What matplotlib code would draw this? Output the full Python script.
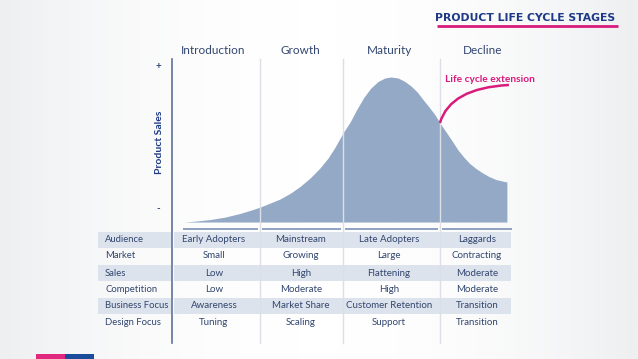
import numpy as np
import matplotlib
matplotlib.use("Agg")
import matplotlib.pyplot as plt
from matplotlib.path import Path
from matplotlib.patches import PathPatch, Rectangle

# --- data ---
stages = ["Introduction", "Growth", "Maturity", "Decline"]
stage_bounds = [25.9, 50.3, 78.8]          # time units (0-100)

# product sales curve (time 0-100, sales index 0-100)
time = [3.5, 6.8, 11.2, 15.6, 20.0, 23.5, 25.9, 28.8, 31.8, 34.7, 37.6,
        40.6, 43.5, 45.9, 47.9, 50.3, 52.4, 54.4, 56.5, 58.5, 60.6, 62.6,
        64.4, 66.5, 68.5, 70.3, 72.1, 73.8, 75.6, 77.4, 78.8, 80.6, 82.4,
        84.1, 85.9, 87.6, 89.4, 91.2, 93.2, 95.3, 97.1, 98.5]
sales = [0.0, 0.6, 1.7, 3.4, 5.9, 8.4, 10.3, 13.0, 15.9, 19.7, 24.4,
         30.3, 37.2, 44.1, 51.4, 61.4, 69.0, 77.9, 86.2, 92.4, 96.9, 99.3,
         100.0, 99.3, 96.9, 93.8, 89.7, 84.5, 79.3, 73.8, 68.3, 62.1, 55.9,
         49.7, 44.5, 40.3, 36.9, 34.1, 31.4, 29.3, 28.3, 27.6]

# life cycle extension: start, bend, end
ext_t = [78.8, 81.8, 99.1]
ext_s = [68.3, 92.4, 94.5]

row_labels = ["Audience", "Market", "Sales", "Competition",
              "Business Focus", "Design Focus"]
introduction = ["Early Adopters", "Small", "Low", "Low", "Awareness", "Tuning"]
growth = ["Mainstream", "Growing", "High", "Moderate", "Market Share", "Scaling"]
maturity = ["Late Adopters", "Large", "Flattening", "High",
            "Customer Retention", "Support"]
decline = ["Laggards", "Contracting", "Moderate", "Moderate",
           "Transition", "Transition"]

# --- colours ---
NAVY = "#1e3a86"
TXT = "#32466f"
FILL = "#94a9c6"
PINK = "#d81b7c"
BAND = "#dde3ec"
SEP = "#dcdfe6"

W, H = 638, 359
fig = plt.figure(figsize=(W / 100, H / 100), dpi=100)

# overlay axes in pixel units for layout
ov = fig.add_axes([0, 0, 1, 1])
ov.set_xlim(0, W)
ov.set_ylim(H, 0)
ov.axis("off")

# soft background: white centre, light grey edges
grad = np.abs(np.linspace(-1, 1, 300)) ** 2
ov.imshow(np.tile(grad, (10, 1)), extent=[0, W, H, 0], aspect="auto",
          cmap=matplotlib.colors.LinearSegmentedColormap.from_list(
              "bg", ["#ffffff", "#eeeff1"]), zorder=0)

# chart axes
ax = fig.add_axes([172 / W, (H - 229) / H, 340 / W, 170 / H])
ax.set_xlim(0, 100)
ax.set_ylim(-4.8, 112.4)
ax.patch.set_alpha(0)
for s in ax.spines.values():
    s.set_visible(False)
ax.set_xticks([])
ax.set_yticks([])

ax.fill_between(time, sales, 0, color=FILL, lw=0, zorder=2)
ylo = -(343 - 229) / 170
for b in stage_bounds:
    ax.axvline(b, ymin=ylo, ymax=1, color=SEP, lw=1, clip_on=False, zorder=3)

verts = list(zip(ext_t, ext_s))
ax.add_patch(PathPatch(Path(verts, [Path.MOVETO, Path.CURVE3, Path.CURVE3]),
                       fc="none", ec=PINK, lw=1.8, zorder=4))
ax.text(80.3, 98.6, "Life cycle extension", color=PINK, fontsize=7.3,
        fontweight="bold", family="Lato", va="center", ha="left")

# title
ov.text(615, 18, "PRODUCT LIFE CYCLE STAGES", color=NAVY, fontsize=7.8,
        fontweight="bold", family="DejaVu Sans", ha="right", va="center")
ov.plot([437, 618], [26, 26], color=PINK, lw=2, solid_capstyle="butt")

# stage headers
for name, x in zip(stages, [213, 300, 389, 483]):
    ov.text(x, 51, name, color=TXT, fontsize=8.5, family="Lato",
            ha="center", va="center")

# y axis decorations
ov.plot([172, 172], [59, 343], color="#5d7198", lw=1.2)
ov.text(158, 67, "+", color=TXT, fontsize=7, ha="center", va="center",
        family="Lato", fontweight="bold")
ov.text(158, 209, "-", color=TXT, fontsize=7, ha="center", va="center",
        family="Lato", fontweight="bold")
ov.text(159, 142, "Product Sales", color=NAVY, fontsize=7.5, rotation=90,
        fontweight="bold", family="Lato", ha="center", va="center")

# table top line
for x0, x1 in [(183, 258), (262, 341), (345, 438), (442, 512)]:
    ov.plot([x0, x1], [229, 229], color="#8ea2c1", lw=1.4,
            solid_capstyle="butt")

# table
row_y = [239.5, 256, 273, 289.5, 306, 322.5]
col_x = [214, 301, 389, 477]
segs = [(98, 170.5), (173.5, 259.5), (260.5, 342.5), (343.5, 439.5),
        (440.5, 511)]
columns = [introduction, growth, maturity, decline]
for i, (lab, y) in enumerate(zip(row_labels, row_y)):
    if i % 2 == 0:
        for x0, x1 in segs:
            ov.add_patch(Rectangle((x0, y - 8), x1 - x0, 16, fc=BAND,
                                   ec="none", zorder=1))
    ov.text(105, y, lab, color=TXT, fontsize=6.8, family="Lato",
            ha="left", va="center", zorder=5)
    for col, x in zip(columns, col_x):
        ov.text(x, y, col[i], color=TXT, fontsize=7, family="Lato",
                ha="center", va="center", zorder=5)

# footer marks
ov.add_patch(Rectangle((36, 354), 29, 5, fc="#e0287f", ec="none"))
ov.add_patch(Rectangle((65, 354), 29, 5, fc="#1b4c9c", ec="none"))

fig.savefig("out.png", dpi=100)
